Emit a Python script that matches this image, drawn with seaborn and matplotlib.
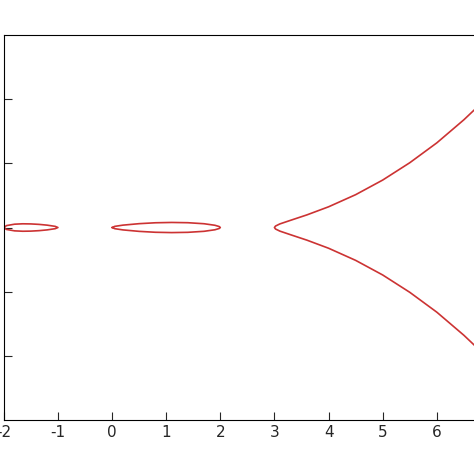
import numpy as np
import matplotlib
matplotlib.use("Agg")
import matplotlib.pyplot as plt
import seaborn as sns

# upper halves of the three curve pieces (lower half mirrors)
left_x = [-2.0, -1.95, -1.8, -1.65, -1.5, -1.35, -1.2, -1.05, -1.0]
left_y = [0.0, 0.03, 0.052, 0.058, 0.056, 0.049, 0.037, 0.018, 0.0]
mid_x = [0.0, 0.05, 0.2, 0.5, 0.8, 1.1, 1.4, 1.7, 1.9, 1.98, 2.0]
mid_y = [0.0, 0.018, 0.037, 0.06, 0.074, 0.079, 0.075, 0.059, 0.035, 0.015, 0.0]
right_x = [3.0, 3.02, 3.1, 3.3, 3.6, 4.0, 4.5, 5.0, 5.5, 6.0, 6.5, 6.8]
right_y = [0.0, 0.023, 0.056, 0.113, 0.197, 0.323, 0.512, 0.74, 1.01, 1.32, 1.68, 1.92]

x_ticks = [-2, -1, 0, 1, 2, 3, 4, 5, 6]
y_ticks = [-2, -1, 0, 1, 2]
COLOR = "#cc3333"

sns.set_style("ticks")
plt.rcParams["axes.unicode_minus"] = False
fig = plt.figure(figsize=(4.74, 4.74), dpi=100)
ax = fig.add_axes([0.008, 0.114, 1.142, 0.812])

for xs, ys in [(left_x, left_y), (mid_x, mid_y)]:
    xs, ys = np.array(xs), np.array(ys)
    loop_x = np.concatenate([xs, xs[::-1]])
    loop_y = np.concatenate([ys, -ys[::-1]])
    sns.lineplot(x=loop_x, y=loop_y, sort=False, estimator=None, errorbar=None,
                 color=COLOR, lw=1.2, ax=ax)

rx, ry = np.array(right_x), np.array(right_y)
sns.lineplot(x=np.concatenate([rx[::-1], rx]), y=np.concatenate([ry[::-1], -ry]),
             sort=False, estimator=None, errorbar=None, color=COLOR, lw=1.2, ax=ax)

ax.set_xlim(-2, 8)
ax.set_ylim(-3, 3)
ax.set_xticks(x_ticks)
ax.set_yticks(y_ticks)
ax.set_yticklabels([])
ax.tick_params(direction="in", length=6, labelsize=11, top=False, right=False)
for s in ax.spines.values():
    s.set_color("black")
    s.set_linewidth(0.8)

fig.savefig("out.png", dpi=100)
